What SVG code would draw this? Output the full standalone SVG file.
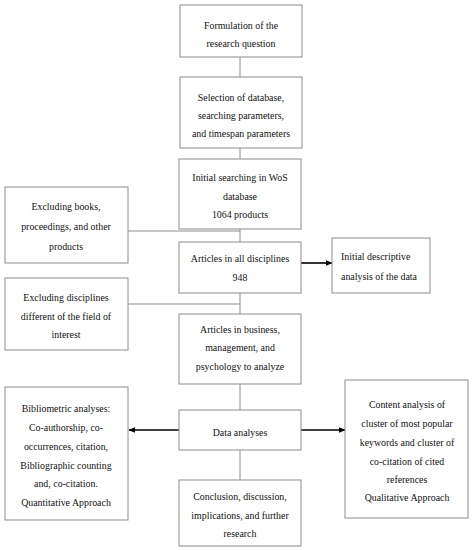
<svg xmlns="http://www.w3.org/2000/svg" width="473" height="550" viewBox="0 0 473 550">
<defs>
<marker id="ah" viewBox="0 0 10 10" refX="9" refY="5" markerWidth="7" markerHeight="7" orient="auto" markerUnits="userSpaceOnUse">
<path d="M0,1 L10,5 L0,9 z" fill="#000"/>
</marker>
</defs>
<style>
.box{fill:#fff;stroke:#8c8c8c;stroke-width:1}
.t{font-family:'Liberation Serif','DejaVu Serif',serif;font-size:9.9px;fill:#111;text-anchor:middle}
.l{text-anchor:start}
.ln{stroke:#8c8c8c;stroke-width:1;fill:none}
.ar{stroke:#000;stroke-width:1.6;fill:none;marker-end:url(#ah)}
</style>
<rect width="473" height="550" fill="#fff"/>
<g id="connectors">
<line class="ln" x1="240" y1="57" x2="240" y2="77"/>
<line class="ln" x1="240" y1="148" x2="240" y2="159"/>
<line class="ln" x1="240" y1="229" x2="240" y2="242"/>
<line class="ln" x1="240" y1="293" x2="240" y2="314"/>
<line class="ln" x1="240" y1="384" x2="240" y2="410"/>
<line class="ln" x1="240" y1="450" x2="240" y2="480"/>
<line class="ln" x1="128" y1="231" x2="240" y2="231"/>
<line class="ln" x1="128" y1="304" x2="240" y2="304"/>
<line class="ar" x1="301" y1="263" x2="332" y2="263"/>
<line class="ar" x1="179" y1="430" x2="129" y2="430"/>
<line class="ar" x1="301" y1="430" x2="345" y2="430"/>
</g>
<g id="n1"><rect class="box" x="180" y="5" width="122" height="52"/>
<text class="t" x="241" y="29">Formulation of the</text><text class="t" x="241" y="47">research question</text></g>
<g id="n2"><rect class="box" x="180" y="77" width="122" height="71"/>
<text class="t" x="241" y="101">Selection of database,</text><text class="t" x="241" y="119">searching parameters,</text><text class="t" x="241" y="137">and timespan parameters</text></g>
<g id="n3"><rect class="box" x="179" y="159" width="122" height="70"/>
<text class="t" x="240" y="181">Initial searching in WoS</text><text class="t" x="240" y="200">database</text><text class="t" x="240" y="218">1064 products</text></g>
<g id="n4"><rect class="box" x="5" y="187" width="123" height="76"/>
<text class="t" x="66" y="210">Excluding books,</text><text class="t" x="66" y="230">proceedings, and other</text><text class="t" x="66" y="250">products</text></g>
<g id="n5"><rect class="box" x="179" y="242" width="122" height="51"/>
<text class="t" x="240" y="262">Articles in all disciplines</text><text class="t" x="240" y="281">948</text></g>
<g id="n6"><rect class="box" x="332" y="238" width="98" height="55"/>
<text class="t l" x="341" y="260">Initial descriptive</text><text class="t l" x="341" y="280">analysis of the data</text></g>
<g id="n7"><rect class="box" x="5" y="278" width="123" height="72"/>
<text class="t" x="66" y="301">Excluding disciplines</text><text class="t" x="66" y="320">different of the field of</text><text class="t" x="66" y="338">interest</text></g>
<g id="n8"><rect class="box" x="179" y="314" width="122" height="70"/>
<text class="t" x="240" y="333">Articles in business,</text><text class="t" x="240" y="351">management, and</text><text class="t" x="240" y="370">psychology to analyze</text></g>
<g id="n9"><rect class="box" x="5" y="387" width="123" height="133"/>
<text class="t" x="66" y="412">Bibliometric analyses:</text><text class="t" x="66" y="431">Co-authorship, co-</text><text class="t" x="66" y="450">occurrences, citation,</text><text class="t" x="66" y="469">Bibliographic counting</text><text class="t" x="66" y="487">and, co-citation.</text><text class="t" x="66" y="506">Quantitative Approach</text></g>
<g id="n10"><rect class="box" x="179" y="410" width="122" height="40"/>
<text class="t" x="240" y="436">Data analyses</text></g>
<g id="n11"><rect class="box" x="179" y="480" width="122" height="66"/>
<text class="t" x="240" y="500">Conclusion, discussion,</text><text class="t" x="240" y="519">implications, and further</text><text class="t" x="240" y="537">research</text></g>
<g id="n12"><rect class="box" x="345" y="380" width="123" height="138"/>
<text class="t" x="407" y="408">Content analysis of</text><text class="t" x="407" y="427">cluster of most popular</text><text class="t" x="407" y="446">keywords and cluster of</text><text class="t" x="407" y="465">co-citation of cited</text><text class="t" x="407" y="483">references</text><text class="t" x="407" y="501">Qualitative Approach</text></g>
</svg>
